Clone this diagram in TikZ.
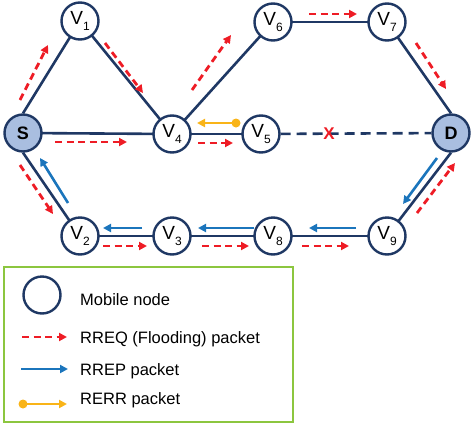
\documentclass[tikz,border=0pt]{standalone}
\usepackage{fontspec}
\setmainfont{Liberation Sans}
\usetikzlibrary{arrows.meta,backgrounds}
\definecolor{navy}{HTML}{1F3864}
\definecolor{nodefill}{HTML}{A9BEE0}
\definecolor{rreq}{HTML}{EE1C25}
\definecolor{rrep}{HTML}{1B75BC}
\definecolor{rerr}{HTML}{F9B418}
\definecolor{lgreen}{HTML}{8CC63F}
\newcommand\vn[1]{V\raisebox{-0.28em}{\fontsize{12}{12}\selectfont #1}}
\begin{document}
\begin{tikzpicture}[x=1pt,y=-1pt,
 mnode/.style={circle,draw=navy,line width=2.4pt,fill=white,minimum size=37pt,inner sep=0pt,font=\fontsize{19}{19}\selectfont},
 endnode/.style={mnode,fill=nodefill,font=\fontsize{18}{18}\selectfont\bfseries},
 link/.style={navy,line width=2.6pt},
 req/.style={rreq,line width=2.8pt,dash pattern=on 7pt off 4.5pt,-{Triangle[length=8pt,width=8pt]}},
 rep/.style={rrep,line width=2.6pt,-{Triangle[length=8pt,width=8pt]}},
 err/.style={rerr,line width=2.6pt,-{Triangle[length=8pt,width=8pt]}},
 lbl/.style={anchor=base west,font=\fontsize{16.5}{16.5}\selectfont,inner sep=0pt}]
\useasboundingbox (0,0) rectangle (474,426);
% nodes
\node[endnode] (S) at (23,133) {S};
\node[mnode] (V1) at (80,21) {\vn{1}};
\node[mnode] (V4) at (172,134) {\vn{4}};
\node[mnode] (V5) at (261,134) {\vn{5}};
\node[mnode] (V6) at (273,22) {\vn{6}};
\node[mnode] (V7) at (387,22) {\vn{7}};
\node[endnode] (D) at (451,133) {D};
\node[mnode] (V2) at (80,236) {\vn{2}};
\node[mnode] (V3) at (172,236) {\vn{3}};
\node[mnode] (V8) at (273,236) {\vn{8}};
\node[mnode] (V9) at (387,236) {\vn{9}};
% links
\begin{scope}[on background layer]
\draw[link] (S.north) -- (V1.center);
\draw[link] (V1.center) -- (V4.center);
\draw[link] (S.center) -- (V4.center);
\draw[link] (V4.center) -- (V6.center);
\draw[link] (V6.center) -- (V7.center);
\draw[link] (V7.center) -- (D.north);
\draw[link] (V4.center) -- (V5.center);
\draw[link,dash pattern=on 10pt off 6pt] (V5) -- (D);
\draw[link] (D.south) -- (V9.center);
\draw[link] (V9.center) -- (V8.center);
\draw[link] (V8.center) -- (V3.center);
\draw[link] (V3.center) -- (V2.center);
\draw[link] (V2.center) -- (S.south);
\end{scope}
\node[text=rreq,font=\fontsize{17}{17}\selectfont\bfseries] (X) at (329,134) {X};
% RREQ
\draw[req] (20,100) -- (48,45);
\draw[req] (105,43) -- (143,93);
\draw[req] (55,142) -- (127,142);
\draw[req] (198,143) -- (233,143);
\draw[req] (192,90) -- (231,35);
\draw[req] (309,14) -- (357,14);
\draw[req] (416,43) -- (446,89);
\draw[req] (417,213) -- (455,163);
\draw[req] (302,246) -- (349,246);
\draw[req] (202,246) -- (249,246);
\draw[req] (103,246) -- (147,246);
\draw[req] (20,165) -- (53,214);
% RREP
\draw[rep] (437,158) -- (403,204);
\draw[rep] (356,228) -- (309,228);
\draw[rep] (254,228) -- (198,228);
\draw[rep] (142,228) -- (103,228);
\draw[rep] (68,203) -- (40,158);
% RERR
\fill[rerr] (236,123) circle (4.5);
\draw[err] (236,123) -- (197,123);
% legend
\draw[lgreen,line width=2pt] (4,267) rectangle (293,422);
\node[mnode] (LM) at (42,295) {};
\node[lbl] (L1) at (80,305) {Mobile node};
\draw[req] (22,337) -- (67,337);
\node[lbl] (L2) at (80,343) {RREQ (Flooding) packet};
\draw[rep] (21,369) -- (68,369);
\node[lbl] (L3) at (80,375) {RREP packet};
\fill[rerr] (23,404) circle (4.5);
\draw[err] (23,404) -- (67,404);
\node[lbl] (L4) at (80,404) {RERR packet};
\end{tikzpicture}
\end{document}
